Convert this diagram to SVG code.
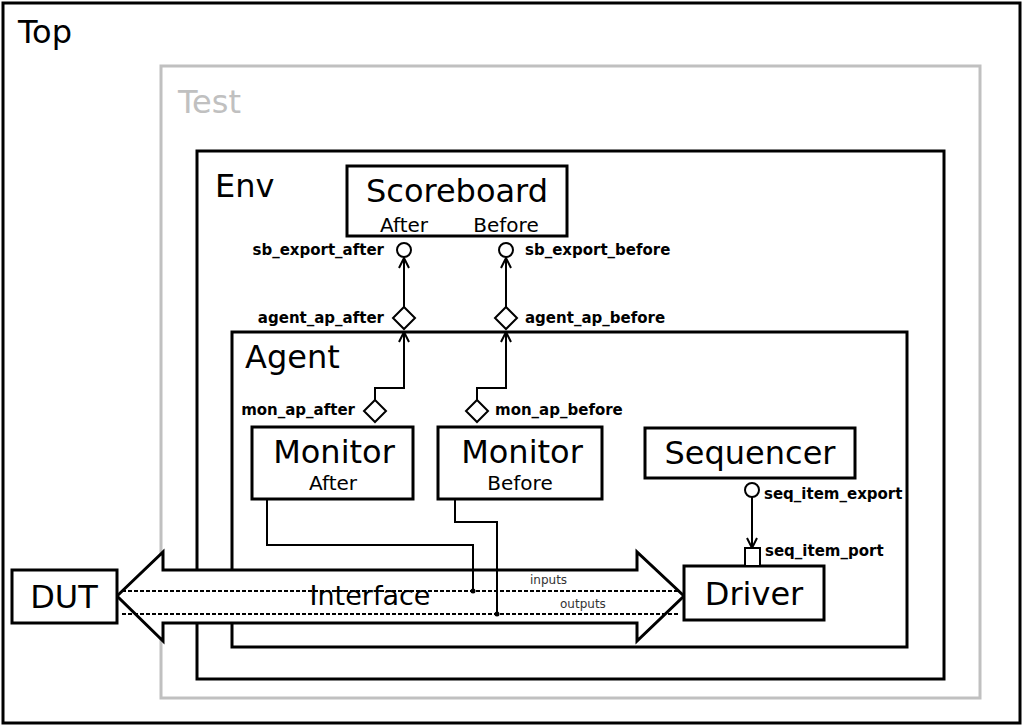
<svg xmlns="http://www.w3.org/2000/svg" width="1024" height="727" viewBox="0 0 1024 727">
<style>
text{font-family:"DejaVu Sans",sans-serif;fill:#000}
.box{fill:#fff;stroke:#000;stroke-width:3}
.frame{fill:none;stroke:#000;stroke-width:3}
.big{font-size:32px}
.sub{font-size:20px}
.ttl{font-size:32px}
.lbl{font-size:15px;font-weight:bold}
.ln{fill:none;stroke:#000;stroke-width:2}
.dot{fill:none;stroke:#000;stroke-width:2;stroke-dasharray:4,2}
</style>
<defs>
<marker id="ah" viewBox="0 0 12 12" refX="11" refY="6" markerWidth="12" markerHeight="12" markerUnits="userSpaceOnUse" orient="auto">
<path d="M1,1 L11,6 L1,11" fill="none" stroke="#000" stroke-width="2"/>
</marker>
</defs>
<rect width="1024" height="727" fill="#fff"/>
<g id="top"><rect x="3" y="3" width="1017" height="720" class="frame"/><text x="18" y="43" class="ttl">Top</text></g>
<g id="test"><rect x="161" y="66" width="819" height="632" fill="none" stroke="#c0c0c0" stroke-width="3"/><text x="178" y="113" class="ttl" style="fill:#c0c0c0">Test</text></g>
<g id="env"><rect x="197" y="151" width="747" height="528" class="frame"/><text x="215" y="197" class="ttl">Env</text></g>
<g id="agent"><rect x="232" y="332" width="675" height="315" class="frame"/><text x="245" y="368" class="ttl">Agent</text></g>
<g id="scoreboard"><rect x="347" y="166" width="220" height="70" class="box"/>
<text x="457" y="202" class="big" text-anchor="middle">Scoreboard</text>
<text x="404" y="232" class="sub" text-anchor="middle">After</text>
<text x="506" y="232" class="sub" text-anchor="middle">Before</text>
<circle cx="404" cy="250" r="7" class="box" style="stroke-width:2"/>
<circle cx="506" cy="250" r="7" class="box" style="stroke-width:2"/>
<text x="384" y="255" class="lbl" text-anchor="end">sb_export_after</text>
<text x="525" y="255" class="lbl">sb_export_before</text></g>
<g id="monitor_after"><rect x="252" y="427" width="161" height="72" class="box"/>
<text x="334" y="463" class="big" text-anchor="middle">Monitor</text>
<text x="333" y="490" class="sub" text-anchor="middle">After</text></g>
<g id="monitor_before"><rect x="438" y="427" width="164" height="72" class="box"/>
<text x="522" y="463" class="big" text-anchor="middle">Monitor</text>
<text x="520" y="490" class="sub" text-anchor="middle">Before</text></g>
<g id="sequencer"><rect x="645" y="428" width="210" height="50" class="box"/>
<text x="750" y="464" class="big" text-anchor="middle">Sequencer</text>
<circle cx="752" cy="490" r="7" class="box" style="stroke-width:2"/>
<text x="764" y="499" class="lbl">seq_item_export</text></g>
<g id="connectors">
<path d="M404,318 V258" class="ln" marker-end="url(#ah)"/>
<path d="M506,318 V258" class="ln" marker-end="url(#ah)"/>
<path d="M375,401 V388 H404 V332" class="ln" marker-end="url(#ah)"/>
<path d="M477,401 V388 H506 V332" class="ln" marker-end="url(#ah)"/>
<path d="M752,497 V548" class="ln" marker-end="url(#ah)"/>
</g>
<g id="ports">
<path d="M404,307 L415,318 L404,329 L393,318 Z" class="box" style="stroke-width:2"/>
<path d="M506,307 L517,318 L506,329 L495,318 Z" class="box" style="stroke-width:2"/>
<path d="M375,400 L386,411 L375,422 L364,411 Z" class="box" style="stroke-width:2"/>
<path d="M477,400 L488,411 L477,422 L466,411 Z" class="box" style="stroke-width:2"/>
<text x="384" y="323" class="lbl" text-anchor="end">agent_ap_after</text>
<text x="525" y="323" class="lbl">agent_ap_before</text>
<text x="355" y="415" class="lbl" text-anchor="end">mon_ap_after</text>
<text x="495" y="415" class="lbl">mon_ap_before</text>
</g>
<g id="interface">
<path d="M117,596 L163,552 V570 H637 V552 L684,596 L637,641 V623 H163 V641 Z" class="box"/>
<path d="M122,591 H680" class="dot"/>
<path d="M122,614 H680" class="dot"/>
<text x="370" y="605" font-size="27" text-anchor="middle">Interface</text>
<text x="530" y="584" font-size="12" style="fill:#333">inputs</text>
<text x="560" y="608" font-size="12" style="fill:#333">outputs</text>
</g>
<g id="monitor_taps">
<path d="M267,499 V545 H473 V591" class="ln"/>
<path d="M455,499 V522 H497 V614" class="ln"/>
<circle cx="473" cy="591" r="2.5"/>
<circle cx="497" cy="614" r="2.5"/>
</g>
<g id="dut"><rect x="12" y="570" width="105" height="53" class="box"/><text x="64" y="608" class="big" text-anchor="middle">DUT</text></g>
<g id="driver"><rect x="684" y="566" width="140" height="54" class="box"/><text x="754" y="605" class="big" text-anchor="middle">Driver</text>
<rect x="745" y="548" width="15" height="18" class="box" style="stroke-width:2"/>
<text x="765" y="556" class="lbl">seq_item_port</text></g>
</svg>
